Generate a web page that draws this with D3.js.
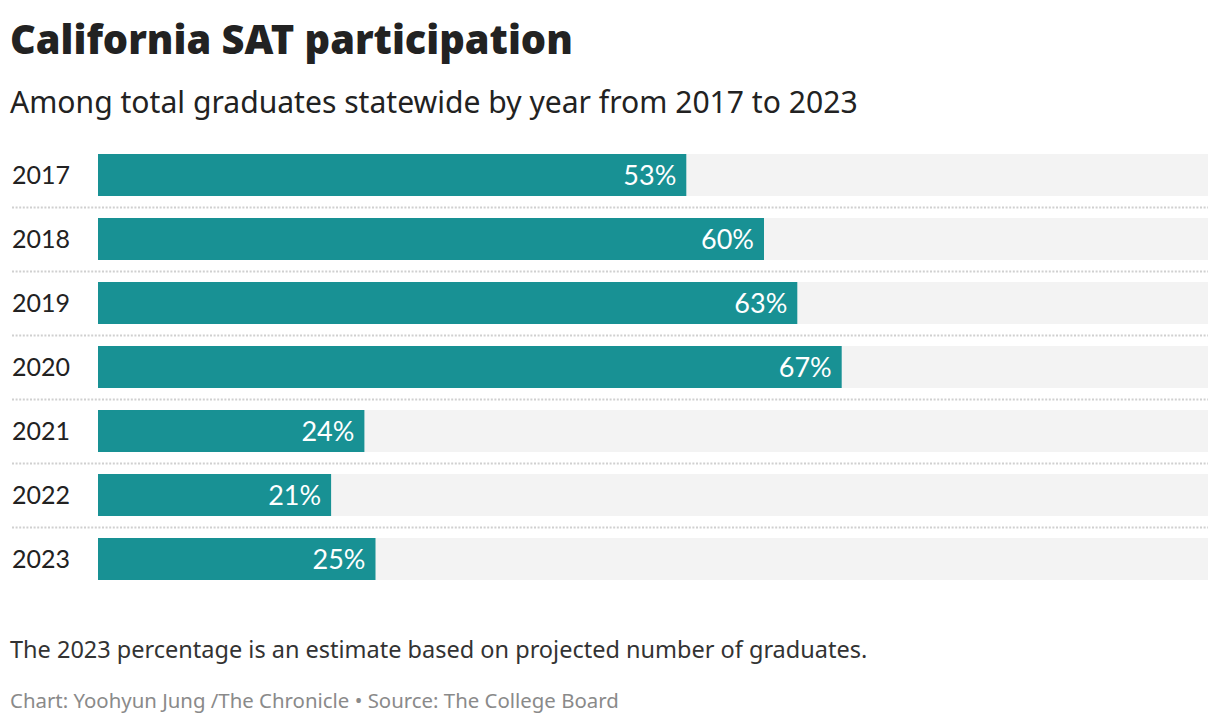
<!DOCTYPE html>
<html>
<head>
<meta charset="utf-8">
<script src="https://cdn.jsdelivr.net/npm/d3@7"></script>
<style>
  body { margin: 0; background: #fff; }
  svg { display: block; }
</style>
</head>
<body>
<div id="chart"></div>
<script>
// Data
const years = ["2017", "2018", "2019", "2020", "2021", "2022", "2023"];
const participation = [53, 60, 63, 67, 24, 21, 25];

const width = 1220, height = 728;
const margin = {left: 98, right: 12, top: 154};
const rowStep = 64, barH = 42;

const svg = d3.select("#chart").append("svg")
    .attr("width", width)
    .attr("height", height)
    .style("font-family", "Lato, 'Noto Sans', sans-serif");

// Titles
svg.append("text")
    .attr("x", 10).attr("y", 54)
    .attr("font-size", 39.8).attr("font-weight", 900)
    .attr("fill", "#222")
    .style("font-family", "'Noto Sans', Lato, sans-serif")
    .text("California SAT participation");

svg.append("text")
    .attr("x", 10).attr("y", 113)
    .attr("font-size", 30.1)
    .attr("fill", "#222")
    .style("font-family", "'Noto Sans', sans-serif")
    .text("Among total graduates statewide by year from 2017 to 2023");

// Scales
const x = d3.scaleLinear().domain([0, 100]).range([margin.left, width - margin.right]);
const y = d3.scaleBand().domain(years)
    .range([margin.top, margin.top + rowStep * (years.length - 1) + barH])
    .paddingInner((rowStep - barH) / rowStep).paddingOuter(0);

const data = years.map((yr, i) => ({year: yr, value: participation[i]}));

// Background bars
svg.append("g").selectAll("rect")
    .data(data).join("rect")
    .attr("x", x(0))
    .attr("y", d => y(d.year))
    .attr("width", x(100) - x(0))
    .attr("height", y.bandwidth())
    .attr("fill", "#f3f3f3");

// Separators
svg.append("g").selectAll("line")
    .data(data.slice(0, -1)).join("line")
    .attr("x1", 12).attr("x2", x(100))
    .attr("y1", d => y(d.year) + barH + 11.5)
    .attr("y2", d => y(d.year) + barH + 11.5)
    .attr("stroke", "#d0d0d0")
    .attr("stroke-width", 2)
    .attr("stroke-dasharray", "2,1.6");

// Value bars
svg.append("g").selectAll("rect")
    .data(data).join("rect")
    .attr("x", x(0))
    .attr("y", d => y(d.year))
    .attr("width", d => x(d.value) - x(0))
    .attr("height", y.bandwidth())
    .attr("fill", "#189194");

// Year labels
svg.append("g").selectAll("text")
    .data(data).join("text")
    .attr("x", 12)
    .attr("y", d => y(d.year) + barH / 2 + 9)
    .attr("font-size", 25)
    .attr("fill", "#222")
    .text(d => d.year);

// Value labels
svg.append("g").selectAll("text")
    .data(data).join("text")
    .attr("x", d => x(d.value) - 10)
    .attr("y", d => y(d.year) + barH / 2 + 10)
    .attr("text-anchor", "end")
    .attr("font-size", 27)
    .attr("fill", "#fff")
    .text(d => d.value + "%");

// Notes
svg.append("text")
    .attr("x", 10).attr("y", 658)
    .attr("font-size", 23.5)
    .attr("fill", "#333")
    .style("font-family", "'Noto Sans', sans-serif")
    .text("The 2023 percentage is an estimate based on projected number of graduates.");

svg.append("text")
    .attr("x", 10).attr("y", 708)
    .attr("font-size", 20.4)
    .attr("fill", "#8a8a8a")
    .style("font-family", "'Noto Sans', sans-serif")
    .text("Chart: Yoohyun Jung /The Chronicle • Source: The College Board");
</script>
</body>
</html>
